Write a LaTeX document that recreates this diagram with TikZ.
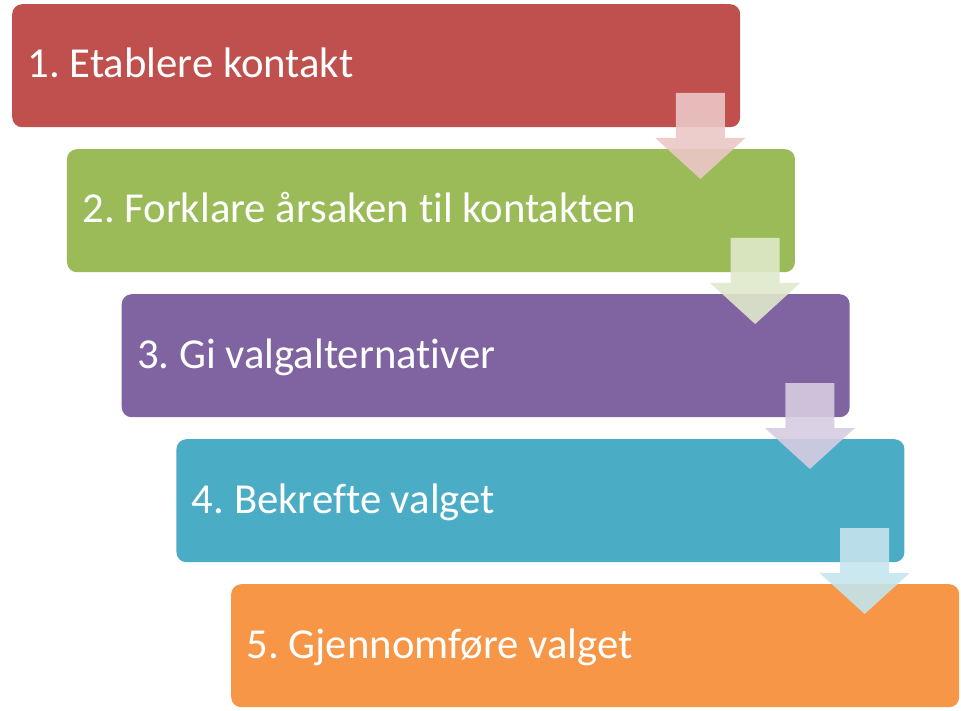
\documentclass[tikz,border=0pt]{standalone}
\usepackage{fontspec}
\setmainfont{Carlito}[Ligatures=NoCommon]
\frenchspacing
\definecolor{cA}{HTML}{C0504D}
\definecolor{cB}{HTML}{9BBB59}
\definecolor{cC}{HTML}{8064A2}
\definecolor{cD}{HTML}{4BACC6}
\definecolor{cE}{HTML}{F79646}
\tikzset{
  stepbox/.style={fill=#1, rounded corners=10pt, minimum width=728pt, minimum height=123pt, inner sep=0pt, anchor=north west},
  steplabel/.style={text=white, font=\fontsize{42.7}{48}\selectfont, anchor=base west, inner sep=0pt},
  downarrow/.style={fill=#1!32!white, fill opacity=0.9, draw=none}
}
\begin{document}
\begin{tikzpicture}[x=1pt,y=-1pt]
\useasboundingbox (0,0) rectangle (961,711);
\foreach \i/\c/\t in {0/cA/{1. Etablere kontakt},1/cB/{2. Forklare årsaken til kontakten},2/cC/{3. Gi valgalternativer},3/cD/{4. Bekrefte valget},4/cE/{5. Gjennomføre valget}}{
  \pgfmathsetmacro{\bx}{12+54.75*\i}
  \pgfmathsetmacro{\by}{4+145*\i}
  \node[stepbox=\c] (b\i) at (\bx,\by) {};
  \node[steplabel] (t\i) at (\bx+15.5,\by+74) {\t};
}
\foreach \i/\c in {0/cA,1/cB,2/cC,3/cD}{
  \path (b\i.north east) ++(-40,89) coordinate (a\i);
  \fill[downarrow=\c] (a\i) ++(-24.5,0) -- ++(49,0) -- ++(0,45) -- ++(20.5,0)
     -- ++(-45,41) -- ++(-45,-41) -- ++(20.5,0) -- cycle;
}
\end{tikzpicture}
\end{document}
